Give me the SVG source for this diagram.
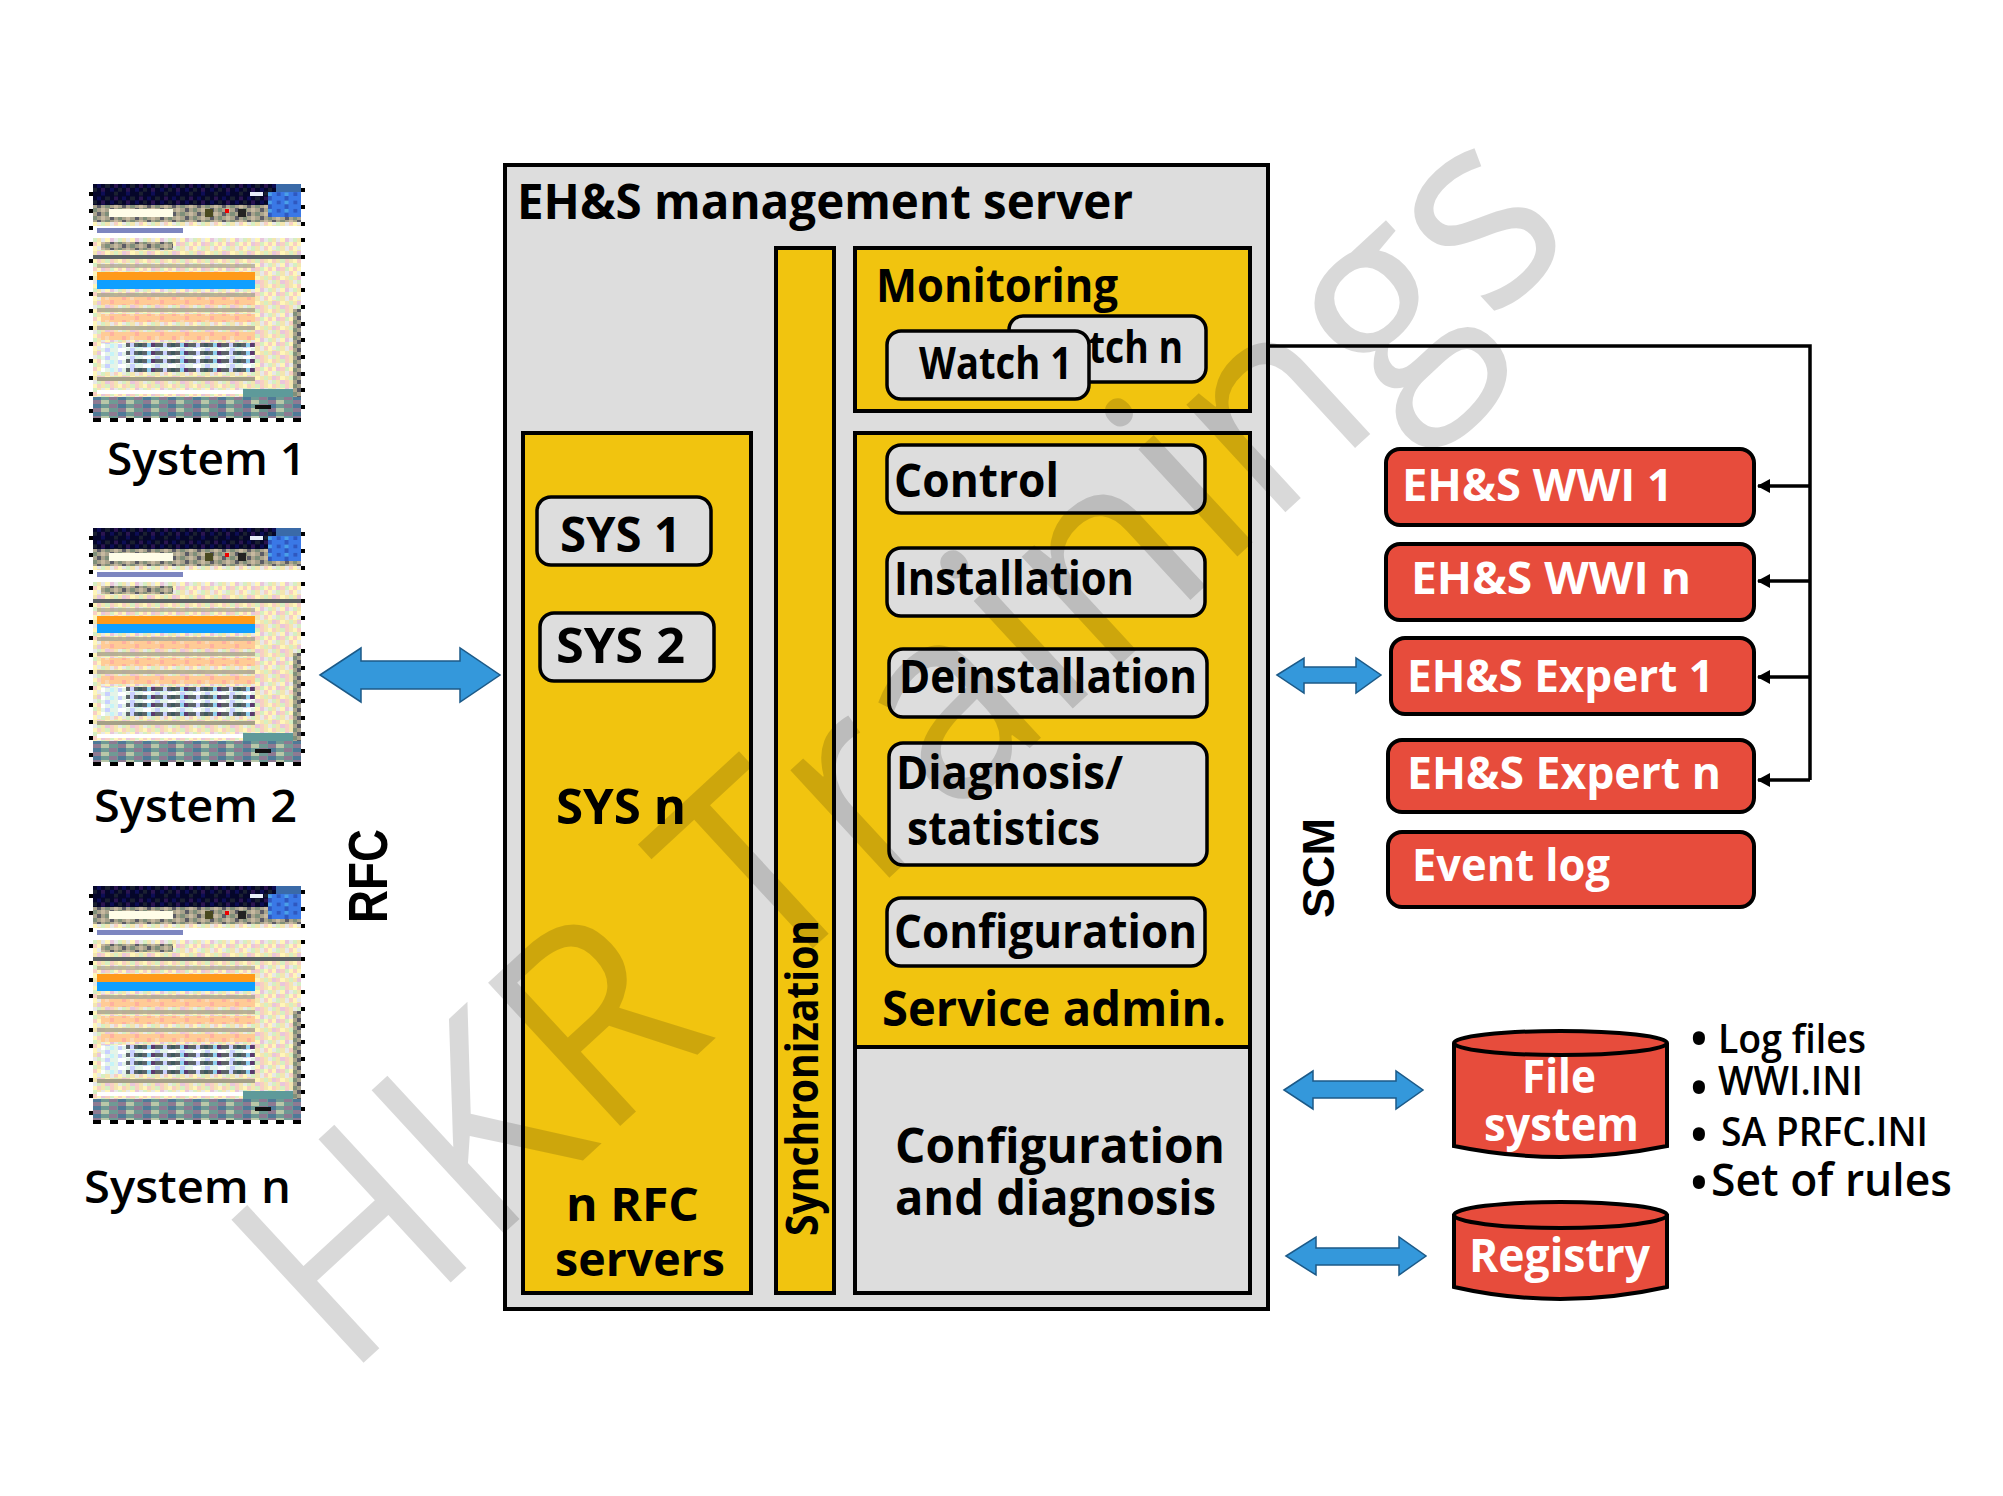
<svg xmlns="http://www.w3.org/2000/svg" width="2003" height="1496" viewBox="0 0 2003 1496">
<style>
text{font-family:"Open Sans","Noto Sans",sans-serif;font-weight:700;fill:#000}
.b{stroke:#000;stroke-width:4;fill:#f1c40f}
.g{stroke:#000;stroke-width:3.5;fill:#ddd}
.r{stroke:#000;stroke-width:4;fill:#e74c3c}
.a{fill:#3498db;stroke:#1c5a88;stroke-width:1.5}
.w{fill:#fff}
.t44{font-size:44px}.t46{font-size:46px}.t48{font-size:48px}
.s{font-weight:600;font-size:46px}
.l{font-weight:600;font-size:39px}
.d{font-weight:400;font-size:58px}
.v{font-family:"Liberation Sans",Arial,sans-serif}
.c{stroke:#000;stroke-width:3.5;fill:none}
</style>
<defs>
<marker id="ah" markerWidth="14" markerHeight="14" refX="12" refY="7" orient="auto" markerUnits="userSpaceOnUse"><path d="M0 0L13 7L0 14Z"/></marker>
<pattern id="pa" patternUnits="userSpaceOnUse" width="25" height="25" shape-rendering="crispEdges">
<rect width="25" height="25" fill="#f3e6b0"/>
<path fill="#f8cfc4" d="M4 0h4v4h-4zM17 0h4v4h-4zM0 8h4v4h-4zM12 8h5v4h-5zM21 12h4v4h-4zM8 17h4v4h-4zM17 21h4v4h-4z"/>
<path fill="#e8e8e8" d="M8 4h4v4h-4zM21 4h4v4h-4zM4 12h4v4h-4zM17 12h4v5h-4zM0 21h4v4h-4z"/>
<path fill="#d6efc2" d="M12 0h5v4h-5zM0 4h4v4h-4zM17 8h4v4h-4zM8 12h4v5h-4zM21 17h4v4h-4zM4 21h4v4h-4z"/>
<path fill="#fff6b8" d="M0 0h4v4h-4zM12 4h5v4h-5zM4 8h4v4h-4zM21 8h4v4h-4zM12 17h5v4h-5zM0 12h4v5h-4z"/>
<path fill="#e9c6dc" d="M17 4h4v4h-4zM8 8h4v4h-4zM4 17h4v4h-4zM12 21h5v4h-5z"/>
</pattern>
<pattern id="pd" patternUnits="userSpaceOnUse" width="25" height="12.500" shape-rendering="crispEdges">
<rect width="25" height="12.500" fill="#05062a"/>
<path fill="#0d0d55" d="M4 0h4v4h-4zM17 4h4v4h-4zM8 8h4v4h-4z"/>
<path fill="#1a2030" d="M12 0h5v4h-5zM0 4h4v4h-4zM21 8h4v4h-4z"/>
<path fill="#2a1450" d="M21 0h4v4h-4zM8 4h4v4h-4z"/>
</pattern>
<pattern id="pm" patternUnits="userSpaceOnUse" width="25" height="8" shape-rendering="crispEdges">
<rect width="25" height="8" fill="#a9a38c"/>
<path fill="#7f8f7a" d="M0 0h4v4h-4zM12 4h5v4h-5z"/>
<path fill="#c7b9a0" d="M8 0h4v4h-4zM21 4h4v4h-4z"/>
<path fill="#5c5c66" d="M17 0h4v4h-4zM4 4h4v4h-4z"/>
</pattern>
<pattern id="pk" patternUnits="userSpaceOnUse" width="33" height="4" shape-rendering="crispEdges">
<rect width="33" height="4" fill="#5c6468"/>
<path fill="#c9d0ff" d="M4 0h4v4h-4z"/>
<path fill="#3f5a5e" d="M12 0h4v4h-4z"/>
<path fill="#8fd0f0" d="M21 0h4v4h-4z"/>
<path fill="#5c3a6e" d="M25 0h4v4h-4z"/>
</pattern>
<pattern id="pl" patternUnits="userSpaceOnUse" width="25" height="8" shape-rendering="crispEdges">
<rect width="25" height="8" fill="#e4f4e8"/>
<path fill="#c9d0ff" d="M0 0h4v4h-4zM12 4h5v4h-5z"/>
<path fill="#fff" d="M8 0h4v4h-4zM0 4h8v4h-8z"/>
<path fill="#c6f4f8" d="M17 0h4v4h-4z"/>
</pattern>
<pattern id="pf" patternUnits="userSpaceOnUse" width="25" height="8" shape-rendering="crispEdges">
<rect width="25" height="8" fill="#6f9a94"/>
<path fill="#8e7a92" d="M0 0h8v4h-8zM16 4h8v4h-8z"/>
<path fill="#b9c7a8" d="M8 0h8v4h-8z"/>
<path fill="#4f7a98" d="M0 4h8v4h-8z"/>
</pattern>
<pattern id="pc" patternUnits="userSpaceOnUse" width="25" height="8" shape-rendering="crispEdges">
<rect width="25" height="8" fill="#ffcb96"/>
<path fill="#ffb0a0" d="M4 0h4v4h-4zM17 4h4v4h-4z"/>
<path fill="#f8d8b8" d="M12 0h4v4h-4z"/>
</pattern>
<pattern id="pb" patternUnits="userSpaceOnUse" width="16.700" height="8.300" shape-rendering="crispEdges">
<rect width="16.700" height="8.300" fill="#3a78e6"/>
<path fill="#2f58c0" d="M0 0h4v4h-4zM8 4h4v4h-4z"/>
<path fill="#4aa0e8" d="M8 0h4v4h-4z"/>
</pattern>
<g id="shot" shape-rendering="crispEdges">
<rect width="208" height="234" fill="url(#pa)"/>
<rect width="208" height="21" fill="url(#pd)"/>
<rect y="21" width="208" height="17" fill="url(#pm)"/>
<rect x="16" y="25" width="64" height="8" fill="#fffde8"/>
<rect x="175" y="8" width="33" height="25" fill="url(#pb)"/>
<rect x="183" width="25" height="8" fill="#3a6aa8"/>
<rect x="157" y="8" width="13" height="4" fill="#e8eef8"/>
<rect x="132" y="25" width="4" height="4" fill="#e00"/>
<rect x="112" y="25" width="8" height="8" fill="#4a4a20"/>
<rect x="145" y="25" width="8" height="8" fill="#222"/>
<rect y="42" width="208" height="12" fill="#fff"/>
<rect x="4" y="44" width="86" height="5" fill="#7d86c0"/>
<rect x="8" y="58" width="72" height="8" fill="url(#pm)"/>
<rect y="71" width="208" height="4" fill="#5e6466"/>
<rect x="4" y="80" width="158" height="4" fill="#a9a38c" opacity=".7"/>
<rect x="4" y="88" width="158" height="8" fill="#ff9a1a"/>
<rect x="4" y="96" width="158" height="9" fill="#0f9fff"/>
<rect x="4" y="109" width="158" height="4" fill="#a9a38c" opacity=".8"/>
<rect x="8" y="113" width="154" height="8" fill="url(#pc)"/>
<rect x="4" y="124" width="158" height="4" fill="#a9a38c" opacity=".8"/>
<rect x="8" y="130" width="154" height="8" fill="url(#pc)"/>
<rect x="4" y="142" width="158" height="4" fill="#a9a38c" opacity=".8"/>
<rect x="8" y="148" width="154" height="8" fill="url(#pc)"/>
<rect x="8" y="159" width="154" height="29" fill="url(#pl)"/>
<rect x="33" y="159" width="129" height="4" fill="url(#pk)"/>
<rect x="33" y="167" width="129" height="4" fill="url(#pk)"/>
<rect x="33" y="175" width="129" height="4" fill="url(#pk)"/>
<rect x="33" y="184" width="129" height="4" fill="url(#pk)"/>
<rect x="4" y="193" width="158" height="4" fill="#a5a088"/>
<rect x="4" y="206" width="146" height="4" fill="#fff"/>
<rect x="150" y="205" width="58" height="8" fill="#5e9a9a"/>
<rect x="200" y="125" width="8" height="88" fill="url(#pm)"/>
<rect y="213" width="208" height="21" fill="url(#pf)"/>
<rect x="162" y="221" width="16" height="4" fill="#111"/>
<path d="M-4 8h4v4h-4zM-4 25h4v4h-4zM-4 42h4v4h-4zM-4 58h4v4h-4zM-4 75h4v4h-4zM-4 92h4v4h-4zM-4 108h4v4h-4zM-4 125h4v4h-4zM-4 142h4v4h-4zM-4 158h4v4h-4zM-4 175h4v4h-4zM-4 192h4v4h-4zM-4 208h4v4h-4zM-4 225h4v4h-4zM208 4h4v4h-4zM208 21h4v4h-4zM208 38h4v4h-4zM208 54h4v4h-4zM208 71h4v4h-4zM208 88h4v4h-4zM208 104h4v4h-4zM208 121h4v4h-4zM208 138h4v4h-4zM208 154h4v4h-4zM208 171h4v4h-4zM208 188h4v4h-4zM208 204h4v4h-4zM208 221h4v4h-4zM0 234h8v4h-8zM17 234h8v4h-8zM33 234h8v4h-8zM50 234h8v4h-8zM67 234h8v4h-8zM83 234h8v4h-8zM100 234h8v4h-8zM117 234h8v4h-8zM133 234h8v4h-8zM150 234h8v4h-8zM167 234h8v4h-8zM183 234h8v4h-8zM200 234h8v4h-8z" fill="#000"/>
</g>
</defs>
<rect width="2003" height="1496" fill="#fff"/>

<g id="system-1"><use href="#shot" x="93" y="184"/><text class="s" x="107" y="475" textLength="199" lengthAdjust="spacingAndGlyphs">System 1</text></g>
<g id="system-2"><use href="#shot" x="93" y="528"/><text class="s" x="94" y="822" textLength="203" lengthAdjust="spacingAndGlyphs">System 2</text></g>
<g id="system-n"><use href="#shot" x="93" y="886"/><text class="s" x="84" y="1203" textLength="207" lengthAdjust="spacingAndGlyphs">System n</text></g>
<text id="rfc-label" class="v" style="font-size:56px" transform="translate(387 923) rotate(-90)" textLength="94" lengthAdjust="spacingAndGlyphs">RFC</text>
<text id="scm-label" class="v t44" transform="translate(1334 918) rotate(-90)" textLength="100" lengthAdjust="spacingAndGlyphs">SCM</text>

<g id="server">
<rect x="505" y="165" width="763" height="1144" fill="#ddd" stroke="#000" stroke-width="4"/>
<text class="t48" x="517" y="219" textLength="616" lengthAdjust="spacingAndGlyphs">EH&amp;S management server</text>
</g>
<g id="rfc-servers">
<rect class="b" x="523" y="433" width="228" height="860"/>
<text class="t46" x="566" y="1221" textLength="133" lengthAdjust="spacingAndGlyphs">n RFC</text><text class="t46" x="555" y="1276" textLength="170" lengthAdjust="spacingAndGlyphs">servers</text>
</g>
<g id="sys-1"><rect class="g" x="537" y="497" width="174" height="68" rx="14"/><text class="t48" x="560" y="552" textLength="121" lengthAdjust="spacingAndGlyphs">SYS 1</text></g>
<g id="sys-2"><rect class="g" x="540" y="613" width="174" height="68" rx="14"/><text class="t48" x="556" y="663" textLength="129" lengthAdjust="spacingAndGlyphs">SYS 2</text></g>
<text id="sys-n" class="t48" x="556" y="824" textLength="130" lengthAdjust="spacingAndGlyphs">SYS n</text>
<g id="synchronization"><rect class="b" x="776" y="248" width="58" height="1045"/><text class="t44" transform="translate(818 1236) rotate(-90)" textLength="316" lengthAdjust="spacingAndGlyphs">Synchronization</text></g>
<g id="monitoring">
<rect class="b" x="855" y="248" width="395" height="163"/>
<text class="t46" x="876" y="302" textLength="242" lengthAdjust="spacingAndGlyphs">Monitoring</text>
<rect class="g" x="1009" y="316" width="197" height="66" rx="14"/>
<text class="t44" x="1030" y="363" textLength="153" lengthAdjust="spacingAndGlyphs">Watch n</text>
<rect class="g" x="887" y="331" width="202" height="68" rx="14"/>
<text class="t44" x="919" y="379" textLength="153" lengthAdjust="spacingAndGlyphs">Watch 1</text>
</g>
<g id="service-admin">
<rect x="855" y="433" width="395" height="860" fill="#ddd" stroke="#000" stroke-width="4"/>
<rect class="b" x="855" y="433" width="395" height="614"/>
<text class="t48" x="882" y="1026" textLength="344" lengthAdjust="spacingAndGlyphs">Service admin.</text>
<text class="t48" x="895" y="1163" textLength="330" lengthAdjust="spacingAndGlyphs">Configuration</text>
<text class="t48" x="895" y="1215" textLength="321" lengthAdjust="spacingAndGlyphs">and diagnosis</text>
</g>
<g id="control"><rect class="g" x="887" y="445" width="318" height="68" rx="14"/><text class="t46" x="894" y="497" textLength="165" lengthAdjust="spacingAndGlyphs">Control</text></g>
<g id="installation"><rect class="g" x="887" y="548" width="318" height="68" rx="14"/><text class="t46" x="894" y="595" textLength="240" lengthAdjust="spacingAndGlyphs">Installation</text></g>
<g id="deinstallation"><rect class="g" x="889" y="649" width="318" height="68" rx="14"/><text class="t46" x="899" y="693" textLength="298" lengthAdjust="spacingAndGlyphs">Deinstallation</text></g>
<g id="diagnosis"><rect class="g" x="889" y="743" width="318" height="122" rx="14"/><text class="t46" x="896" y="789" textLength="227" lengthAdjust="spacingAndGlyphs">Diagnosis/</text><text class="t46" x="907" y="845" textLength="193" lengthAdjust="spacingAndGlyphs">statistics</text></g>
<g id="configuration"><rect class="g" x="887" y="898" width="318" height="68" rx="14"/><text class="t46" x="894" y="948" textLength="303" lengthAdjust="spacingAndGlyphs">Configuration</text></g>

<g id="wwi-1"><rect class="r" x="1386" y="449" width="368" height="76" rx="14"/><text class="w t44" x="1402" y="501" textLength="271" lengthAdjust="spacingAndGlyphs">EH&amp;S WWI 1</text></g>
<g id="wwi-n"><rect class="r" x="1386" y="544" width="368" height="76" rx="14"/><text class="w t44" x="1411" y="594" textLength="280" lengthAdjust="spacingAndGlyphs">EH&amp;S WWI n</text></g>
<g id="expert-1"><rect class="r" x="1391" y="638" width="363" height="76" rx="14"/><text class="w t44" x="1407" y="692" textLength="307" lengthAdjust="spacingAndGlyphs">EH&amp;S Expert 1</text></g>
<g id="expert-n"><rect class="r" x="1388" y="740" width="366" height="72" rx="14"/><text class="w t44" x="1407" y="789" textLength="314" lengthAdjust="spacingAndGlyphs">EH&amp;S Expert n</text></g>
<g id="event-log"><rect class="r" x="1388" y="832" width="366" height="75" rx="14"/><text class="w t44" x="1412" y="881" textLength="198" lengthAdjust="spacingAndGlyphs">Event log</text></g>

<g id="file-system">
<path class="r" d="M1454 1043V1146Q1560 1168 1667 1146V1043"/>
<ellipse class="r" cx="1560.500" cy="1043" rx="106.500" ry="12"/>
<text class="w t46" x="1522" y="1093" textLength="74" lengthAdjust="spacingAndGlyphs">File</text>
<text class="w t46" x="1484" y="1141" textLength="155" lengthAdjust="spacingAndGlyphs">system</text>
</g>
<g id="registry">
<path class="r" d="M1454 1214V1287Q1560 1311 1667 1287V1214"/>
<ellipse class="r" cx="1560.500" cy="1215" rx="106.500" ry="13"/>
<text class="w t46" x="1469" y="1272" textLength="181" lengthAdjust="spacingAndGlyphs">Registry</text>
</g>
<g id="file-list">
<text class="d" x="1688" y="1060">•</text><text class="l" x="1718" y="1053" textLength="148" lengthAdjust="spacingAndGlyphs">Log files</text>
<text class="d" x="1688" y="1109">•</text><text class="l" x="1718" y="1095" textLength="145" lengthAdjust="spacingAndGlyphs">WWI.INI</text>
<text class="d" x="1688" y="1156">•</text><text class="l" x="1721" y="1146" textLength="207" lengthAdjust="spacingAndGlyphs">SA PRFC.INI</text>
<text class="d" x="1688" y="1204">•</text><text class="l" x="1711" y="1196" style="font-size:45px" textLength="241" lengthAdjust="spacingAndGlyphs">Set of rules</text>
</g>

<g id="connectors">
<path class="c" d="M1268 346H1810V780"/>
<path class="c" marker-end="url(#ah)" d="M1810 486H1758"/>
<path class="c" marker-end="url(#ah)" d="M1810 581H1758"/>
<path class="c" marker-end="url(#ah)" d="M1810 677H1758"/>
<path class="c" marker-end="url(#ah)" d="M1810 780H1758"/>
<polygon class="a" points="320,675 361,648 361,661 460,661 460,648 500,675 460,702 460,689 361,689 361,702"/>
<polygon class="a" points="1277,675 1304,658 1304,667 1356,667 1356,658 1381,675 1356,693 1356,683 1304,683 1304,693"/>
<polygon class="a" points="1284,1090 1313,1071 1313,1081 1396,1081 1396,1071 1423,1090 1396,1109 1396,1098 1313,1098 1313,1109"/>
<polygon class="a" points="1286,1256 1316,1237 1316,1248 1399,1248 1399,1237 1426,1256 1399,1275 1399,1265 1316,1265 1316,1275"/>
</g>

<text id="watermark" x="345" y="1380" transform="rotate(-42.700 345 1380)" textLength="1680" lengthAdjust="spacingAndGlyphs" style="font-size:273px;font-weight:500;fill:#000;fill-opacity:.15">HKR Trainings</text>
</svg>
